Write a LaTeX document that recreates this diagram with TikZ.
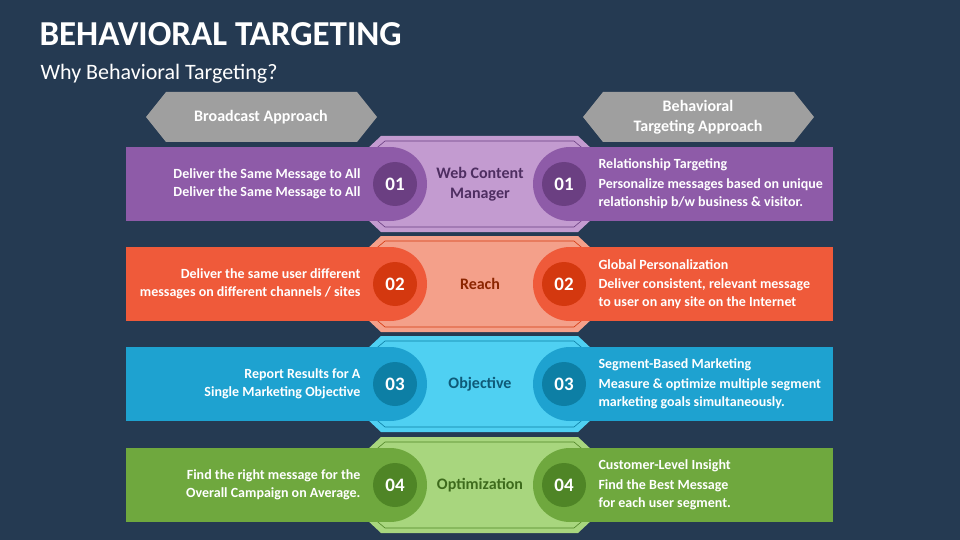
\documentclass[tikz,border=0pt]{standalone}
\usepackage{fontspec}
\setmainfont{Carlito}
\begin{document}
\begin{tikzpicture}[x=1pt,y=-1pt,
  lbl/.style={font=\fontsize{14}{18}\selectfont\bfseries, text=white, align=right, anchor=east},
  rlbl/.style={font=\fontsize{14}{18}\selectfont\bfseries, text=white, align=left, anchor=west},
  num/.style={circle, minimum size=44pt, inner sep=0pt, font=\fontsize{19}{21}\selectfont\bfseries, text=white},
  ctr/.style={font=\fontsize{16}{20}\selectfont\bfseries, align=center}]
\definecolor{bg}{HTML}{253A52}
\fill[bg] (0,0) rectangle (960,540);
\node[anchor=west, text=white, font=\fontsize{35}{37}\selectfont\bfseries] (title) at (36,34) {BEHAVIORAL TARGETING};
\node[anchor=west, text=white, font=\fontsize{22}{24}\selectfont] (sub) at (37,74) {Why Behavioral Targeting?};
% headers
\fill[gray!75] (146,117) -- (166,92) -- (357,92) -- (377,117) -- (357,142) -- (166,142) -- cycle;
\node[ctr, text=white] (hl) at (261,117) {Broadcast Approach};
\fill[gray!75] (583,117) -- (603,92) -- (794,92) -- (814,117) -- (794,142) -- (603,142) -- cycle;
\node[ctr, text=white] (hr) at (698,117) {Behavioral\\Targeting Approach};
% rows
\foreach \y/\bar/\circ/\hex/\tc/\n/\ct/\la/\rt/\rb in {
 184/8E5BA8/6B3F82/C39BD0/4E2E61/01/{Web Content\\Manager}/{Deliver the Same Message to All\\Deliver the Same Message to All}/{Relationship Targeting}/{Personalize messages based on unique\\relationship b/w business \& visitor.},
 284/EF5A3A/D4380F/F4A08A/8B2500/02/{Reach}/{Deliver the same user different\\messages on different channels / sites}/{Global Personalization}/{Deliver consistent, relevant message\\to user on any site on the Internet},
 384/1EA2D0/0D7FA5/4FD0F2/0E5A78/03/{Objective}/{Report Results for A\\Single Marketing Objective}/{Segment-Based Marketing}/{Measure \& optimize multiple segment\\marketing goals simultaneously.},
 485/6FA83E/4F8526/A8D67E/3E6B1C/04/{Optimization}/{Find the right message for the\\Overall Campaign on Average.}/{Customer-Level Insight}/{Find the Best Message\\for each user segment.}} {
  \definecolor{cb}{HTML}{\bar}\definecolor{cc}{HTML}{\circ}\definecolor{ch}{HTML}{\hex}\definecolor{ct}{HTML}{\tc}
  \fill[ch] (366,\y-34) -- (381,\y-48) -- (578,\y-48) -- (593,\y-34) -- (593,\y+34) -- (578,\y+48) -- (381,\y+48) -- (366,\y+34) -- cycle;
  \draw[cc, line width=0.6pt] (372,\y-32) -- (385,\y-43) -- (574,\y-43) -- (587,\y-32) -- (587,\y+32) -- (574,\y+43) -- (385,\y+43) -- (372,\y+32) -- cycle;
  \fill[cb] (126,\y-37) rectangle (390,\y+37);
  \fill[cb] (390,\y) circle[radius=37];
  \fill[cb] (570,\y-37) rectangle (833,\y+37);
  \fill[cb] (570,\y) circle[radius=37];
  \node[num, fill=cc] (nl\n) at (395,\y) {\n};
  \node[num, fill=cc] (nr\n) at (564,\y) {\n};
  \node[ctr, text=ct] (c\n) at (480,\y) {\ct};
  \node[lbl] (l\n) at (364,\y) {\la};
  \node[rlbl] (rt\n) at (595,\y-19) {\rt};
  \node[rlbl, anchor=north west] (rb\n) at (595,\y-9) {\rb};
}
\end{tikzpicture}
\end{document}
